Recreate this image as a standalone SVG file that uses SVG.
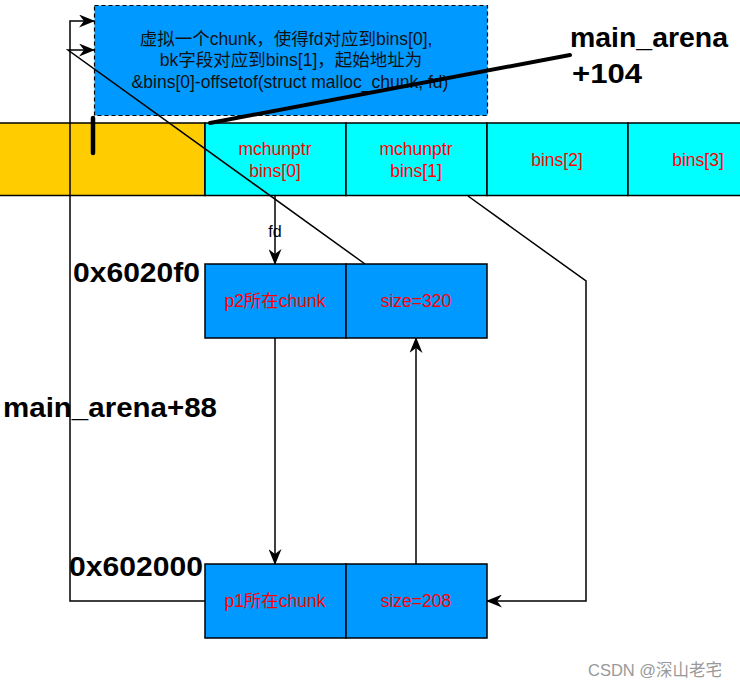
<svg xmlns="http://www.w3.org/2000/svg" width="740" height="689" viewBox="0 0 740 689">
<defs>
<marker id="ah" viewBox="0 0 16 13" refX="15" refY="6.5" markerWidth="16" markerHeight="13" markerUnits="userSpaceOnUse" orient="auto">
<path d="M0,0 L16,6.5 L0,13 L5,6.5 z" fill="#000"/>
</marker>
<style>
.cell{stroke:#000;stroke-width:1.5}
.cy{fill:#00FFFF}
.bl{fill:#0099FF}
.rt{font-family:"Liberation Sans","Noto Sans CJK SC",sans-serif;font-size:17.5px;fill:#FF0000;text-anchor:middle}
.bt{font-family:"Liberation Sans","Noto Sans CJK SC",sans-serif;font-size:17.5px;fill:#111;text-anchor:middle}
.big{font-family:"Liberation Sans",sans-serif;font-weight:bold;font-size:28px;fill:#000}
.ln{fill:none;stroke:#000;stroke-width:1.5}
.ar{marker-end:url(#ah)}
</style>
</defs>
<rect width="740" height="689" fill="#fff"/>

<g id="bins-row">
<rect x="-5" y="123" width="210" height="72.5" fill="#FFCC00" class="cell"/>
<rect x="205" y="123" width="141" height="72.5" class="cell cy"/>
<rect x="346" y="123" width="141" height="72.5" class="cell cy"/>
<rect x="487" y="123" width="141" height="72.5" class="cell cy"/>
<rect x="628" y="123" width="141" height="72.5" class="cell cy"/>
<text class="rt" x="275" y="155">mchunptr</text>
<text class="rt" x="275" y="177">bins[0]</text>
<text class="rt" x="416" y="155">mchunptr</text>
<text class="rt" x="416" y="177">bins[1]</text>
<text class="rt" x="557" y="166">bins[2]</text>
<text class="rt" x="698" y="166">bins[3]</text>
</g>

<g id="fake-chunk">
<rect x="94.5" y="5.5" width="393" height="110" class="bl" stroke="#000" stroke-width="1.2" stroke-dasharray="4 3"/>
<text class="bt" x="286" y="45">虚拟一个chunk，使得fd对应到bins[0],</text>
<text class="bt" x="291" y="66">bk字段对应到bins[1]，起始地址为</text>
<text class="bt" x="290" y="88">&amp;bins[0]-offsetof(struct malloc_chunk, fd)</text>
</g>

<g id="p2-chunk">
<rect x="205" y="264" width="141" height="74" class="cell bl"/>
<rect x="346" y="264" width="141" height="74" class="cell bl"/>
<text class="rt" x="275" y="307">p2所在chunk</text>
<text class="rt" x="416" y="307">size=320</text>
</g>

<g id="p1-chunk">
<rect x="205" y="564" width="141" height="74" class="cell bl"/>
<rect x="346" y="564" width="141" height="74" class="cell bl"/>
<text class="rt" x="275" y="607">p1所在chunk</text>
<text class="rt" x="416" y="607">size=208</text>
</g>

<g id="labels">
<text class="big" x="570" y="47" textLength="158" lengthAdjust="spacingAndGlyphs">main_arena</text>
<text class="big" x="572" y="83" textLength="70" lengthAdjust="spacingAndGlyphs">+104</text>
<text class="big" x="73" y="282" textLength="127" lengthAdjust="spacingAndGlyphs">0x6020f0</text>
<text class="big" x="3" y="417" textLength="214" lengthAdjust="spacingAndGlyphs">main_arena+88</text>
<text class="big" x="69" y="576" textLength="134" lengthAdjust="spacingAndGlyphs">0x602000</text>
</g>

<g id="connectors">
<path class="ln ar" d="M205,601 H70 V21 H94"/>
<path class="ln ar" d="M365,264 L68,50 H94"/>
<path class="ln ar" d="M468,196 L586,281 V601 H487"/>
<path class="ln ar" d="M275,196 V264"/>
<text x="275" y="237" font-family="Liberation Sans,sans-serif" font-size="16" fill="#000" text-anchor="middle">fd</text>
<path class="ln ar" d="M275,338 V564"/>
<path class="ln ar" d="M416,564 V338"/>
<path d="M210,123 L570,55" stroke="#000" stroke-width="4" stroke-linecap="round" fill="none"/>
<path d="M93,118 V153" stroke="#000" stroke-width="4.5" stroke-linecap="round" fill="none"/>
</g>

<text x="588" y="676" font-family="Liberation Sans,Noto Sans CJK SC,sans-serif" font-size="16.5" fill="#999">CSDN @深山老宅</text>
</svg>
